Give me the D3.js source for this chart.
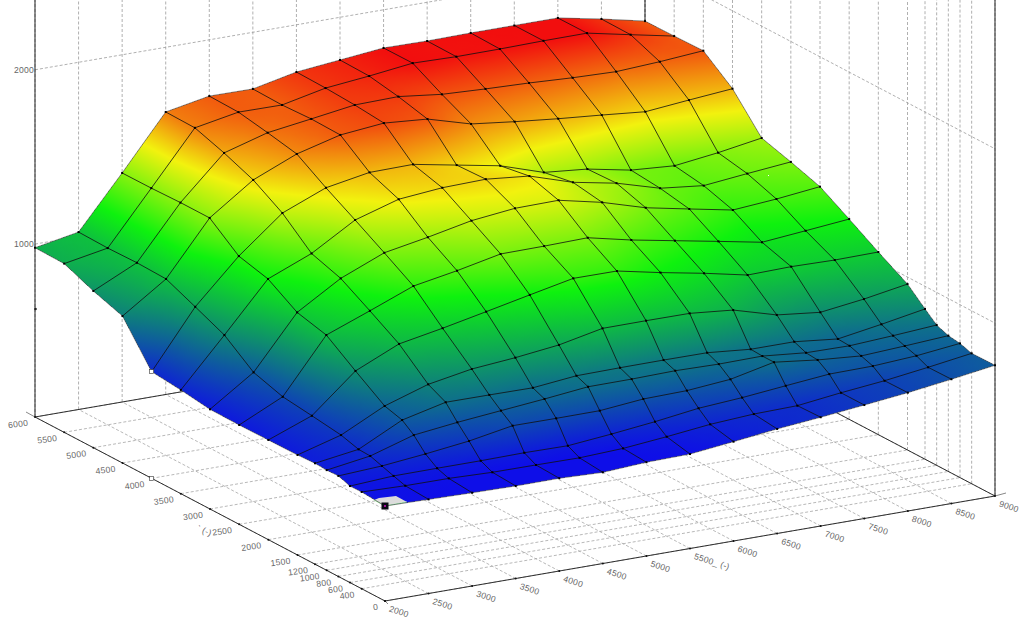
<!DOCTYPE html>
<html><head><meta charset="utf-8">
<style>html,body{margin:0;padding:0;background:#fff;overflow:hidden}svg{display:block}text{font-family:"Liberation Sans",sans-serif;font-size:8.6px;fill:#666;letter-spacing:.25px}</style>
<script src="https://cdn.jsdelivr.net/npm/d3@7/dist/d3.min.js"></script>
</head><body><svg id="c" width="1023" height="629"></svg>
<script>
const xValues=[2000,2500,3000,3500,4000,4500,5000,5500,6000,6500,7000,7500,8000,8500,9000];
const yValues=[6000,5500,5000,4500,4000,3500,3000,2500,2000,1500,1200,1000,800,600,400,0];
const zTicks=[1000,2000];
const z6000=[971,1018,1314,1621,1669,1667,1721,1747,1773,1770,1773,1773,1773,1724,1669];
const z5500=[968,1014,1315,1618,1665,1663,1717,1743,1774,1768,1769,1773,1774,1722,1671];
const z5000=[899,1018,1320,1562,1635,1671,1708,1713,1683,1671,1662,1649,1641,1655,1675];
const z4500=[843,1013,1320,1495,1601,1667,1692,1672,1601,1571,1545,1523,1499,1523,1545];
const z4000=[612,941,1189,1393,1495,1540,1543,1496,1449,1368,1344,1295,1277,1309,1350];
const z3500=[595,867,1146,1249,1398,1474,1497,1503,1478,1399,1351,1279,1251,1277,1301];
const z3000=[572,741,1042,1194,1298,1344,1396,1424,1427,1372,1298,1248,1199,1219,1247];
const z2500=[570,689,1000,1096,1195,1240,1293,1295,1300,1244,1197,1150,1102,1125,1149];
const z2000=[572,668,882,994,1041,1093,1146,1198,1197,1145,1098,1045,1050,1045,1048];
const z1500=[574,645,769,850,895,917,947,999,1000,999,975,904,876,909,952];
const z1200=[579,616,741,800,799,797,823,826,827,826,803,803,776,817,862];
const z1000=[575,613,690,720,744,768,795,796,801,796,799,775,772,787,805];
const z800=[577,591,617,648,693,692,693,717,722,744,799,769,749,763,779];
const z600=[554,569,570,570,573,570,594,622,656,674,699,723,726,742,770];
const z400=[555,548,547,539,538,536,547,571,599,615,620,651,677,711,748];
const z0=[545,540,535,531,532,523,538,542,570,600,624,651,679,713,750];
const zRows=[z6000,z5500,z5000,z4500,z4000,z3500,z3000,z2500,z2000,z1500,z1200,z1000,z800,z600,z400,z0];
const colorStops=[540,1150,1460,1773];
const colorValues=["rgb(14,14,232)","rgb(14,242,14)","rgb(242,242,14)","rgb(242,14,14)"];
const zTop=4000, zTickShift=8, cellSteps=3;

const svg=d3.select("#c");
const color=d3.scaleLinear().domain(colorStops).range(colorValues).clamp(true);
const xPx=d3.scaleLinear([2000,9000],[0,610]), xPy=d3.scaleLinear([2000,9000],[0,-105]);
const yPx=d3.scaleLinear([6000,0],[0,350]), yPy=d3.scaleLinear([6000,0],[0,184]);
const zPy=d3.scaleLinear([0,1000],[0,-174.3]);
const project=(x,y,z=0)=>[35+xPx(x)+yPx(y),417+xPy(x)+yPy(y)+zPy(z)];
const line=d3.line();
const xMin=xValues[0],xMax=xValues[xValues.length-1],yMin=0,yMax=6000;

/* dashed grid */
const floorGrid=[],wallGrid=[];
xValues.forEach(x=>{floorGrid.push([project(x,yMin),project(x,yMax)]);wallGrid.push([project(x,yMax),project(x,yMax,zTop)]);});
yValues.forEach(y=>{floorGrid.push([project(xMin,y),project(xMax,y)]);wallGrid.push([project(xMax,y),project(xMax,y,zTop)]);});
zTicks.forEach(t=>{const z=t-zTickShift;wallGrid.push([project(xMin,yMax,z),project(xMax,yMax,z)]);wallGrid.push([project(xMax,yMax,z),project(xMax,yMin,z)]);});
svg.append("g").selectAll("path").data(floorGrid).join("path").attr("d",line).attr("fill","none")
  .attr("stroke","#a6a6a6").attr("stroke-width",.8).attr("stroke-dasharray","3 2");
svg.append("g").selectAll("path").data(wallGrid).join("path").attr("d",line).attr("fill","none")
  .attr("stroke","#9c9c9c").attr("stroke-width",.8).attr("stroke-dasharray","3 2");

/* solid box */
const box=[[project(xMin,yMax),project(xMax,yMax)],[project(xMax,yMax),project(xMax,yMin)],
 [project(xMin,yMin),project(xMin,yMax)],[project(xMin,yMin),project(xMax,yMin)]];
svg.append("g").selectAll("path").data(box).join("path").attr("d",line).attr("fill","none").attr("stroke","#1c1c1c").attr("stroke-width",.9);
const uprights=[[project(xMin,yMax),project(xMin,yMax,zTop)],[project(xMax,yMax),project(xMax,yMax,zTop)],[project(xMax,yMin),project(xMax,yMin,zTop)]];
svg.append("g").selectAll("path").data(uprights).join("path").attr("d",line).attr("fill","none").attr("stroke","#2a2a2a").attr("stroke-width",1.05);
/* corner overshoots */
const over=[[project(xMin,yMax),project(xMin,yMax).map((v,k)=>v+[-9,-5][k])],
 [project(xMax,yMin),project(xMax,yMin).map((v,k)=>v+[11,-3][k])],
 [project(xMin,yMin),project(xMin,yMin).map((v,k)=>v+[3,3][k])]];
svg.append("g").selectAll("path").data(over).join("path").attr("d",line).attr("stroke","#555").attr("stroke-width",.7).attr("fill","none");

/* surface: each cell subdivided bilinearly into triangles with height-linear gradients */
const defs=svg.append("defs");
const tris=[];
for(let j=0;j<yValues.length-1;j++){
 for(let i=xValues.length-2;i>=0;i--){
  const at=(u,v)=>[
    xValues[i]+(xValues[i+1]-xValues[i])*u,
    yValues[j]+(yValues[j+1]-yValues[j])*v,
    zRows[j][i]*(1-u)*(1-v)+zRows[j][i+1]*u*(1-v)+zRows[j+1][i]*(1-u)*v+zRows[j+1][i+1]*u*v];
  for(let b=0;b<cellSteps;b++)for(let a=cellSteps-1;a>=0;a--){
    const u0=a/cellSteps,u1=(a+1)/cellSteps,v0=b/cellSteps,v1=(b+1)/cellSteps;
    const q=[at(u0,v0),at(u1,v0),at(u1,v1),at(u0,v1)];
    tris.push([q[0],q[1],q[3]],[q[1],q[2],q[3]]);
  }
 }
}
tris.forEach((t,id)=>{
 const p=t.map(d=>project(d[0],d[1],d[2])),zs=t.map(d=>d[2]);
 const ax=p[1][0]-p[0][0],ay=p[1][1]-p[0][1],bx=p[2][0]-p[0][0],by=p[2][1]-p[0][1];
 const dz1=zs[1]-zs[0],dz2=zs[2]-zs[0],det=ax*by-bx*ay;
 t.pts=p;t.fill=color(d3.mean(zs));
 if(Math.abs(det)<1e-6)return;
 const a=(dz1*by-dz2*ay)/det,b=(ax*dz2-bx*dz1)/det,n=a*a+b*b;
 if(n<1e-6)return;
 const lo=d3.min(zs),hi=d3.max(zs);
 if(hi-lo<1e-6)return;
 const g=defs.append("linearGradient").attr("id","t"+id).attr("gradientUnits","userSpaceOnUse")
  .attr("x1",p[0][0]+(lo-zs[0])*a/n).attr("y1",p[0][1]+(lo-zs[0])*b/n)
  .attr("x2",p[0][0]+(hi-zs[0])*a/n).attr("y2",p[0][1]+(hi-zs[0])*b/n);
 const stops=[lo,...colorStops.filter(s=>s>lo&&s<hi),hi];
 stops.forEach(s=>g.append("stop").attr("offset",(s-lo)/(hi-lo)).attr("stop-color",color(s)));
 t.fill=`url(#t${id})`;
});
svg.append("g").attr("shape-rendering","crispEdges").selectAll("path").data(tris).join("path")
 .attr("d",d=>line(d.pts)+"Z").attr("fill",d=>d.fill).attr("stroke","none");

/* selected cell decoration at the front corner */
const sel=project(xMin,yMin,z0[0]);
const off=(o)=>o.map(q=>[sel[0]+q[0],sel[1]+q[1]]);
svg.append("path").attr("d",line(off([[-11,-6],[-6,-8],[11,-10],[22,-4],[0,0]]))+"Z").attr("fill","#dcdcdc");
svg.append("path").attr("d",line(off([[-11,-6],[0,0],[22,-4]]))).attr("fill","none").attr("stroke","#9cf09c").attr("stroke-width",.9);

/* mesh lines */
const lineSets=[];
yValues.forEach((y,j)=>lineSets.push({pts:xValues.map((x,i)=>project(x,y,zRows[j][i])),edge:j===0||j===yValues.length-1}));
xValues.forEach((x,i)=>lineSets.push({pts:yValues.map((y,j)=>project(x,y,zRows[j][i])),edge:i===0||i===xValues.length-1}));
svg.append("g").selectAll("path").data(lineSets).join("path").attr("d",d=>line(d.pts)).attr("fill","none")
 .attr("stroke",d=>d.edge?"#555":"#101010").attr("stroke-width",d=>d.edge?.7:.8);
const nodes=[];
yValues.forEach((y,j)=>xValues.forEach((x,i)=>nodes.push(project(x,y,zRows[j][i]))));
svg.append("g").selectAll("rect").data(nodes).join("rect").attr("x",d=>d[0]-1).attr("y",d=>d[1]-1).attr("width",2).attr("height",2).attr("fill","#000");

/* markers */
svg.append("rect").attr("x",sel[0]-3.5).attr("y",sel[1]-3.5).attr("width",7).attr("height",7).attr("fill","#0a0a14");
svg.append("rect").attr("x",sel[0]-1).attr("y",sel[1]-1).attr("width",2).attr("height",2).attr("fill","#a0109a");
[project(xMin,4000,z4000[0]),project(xMin,4000)].forEach(p=>{
 svg.append("rect").attr("x",p[0]-2).attr("y",p[1]-2).attr("width",4).attr("height",4).attr("fill","#fff").attr("stroke","#333").attr("stroke-width",.6);});
const axisMark=project(xMin,yMax,620);
svg.append("circle").attr("cx",axisMark[0]+.5).attr("cy",axisMark[1]).attr("r",1.3).attr("fill","#222");

/* ticks */
const tickPts=[...xValues.map(x=>project(x,yMin)),...yValues.filter(y=>y!==4000).map(y=>project(xMin,y))];
svg.append("g").selectAll("circle").data(tickPts).join("circle").attr("cx",d=>d[0]).attr("cy",d=>d[1]).attr("r",1).attr("fill","#111");

/* labels */
svg.append("g").selectAll("text").data(yValues).join("text")
 .attr("transform",d=>{const p=project(xMin,d);return `translate(${p[0]-7},${p[1]+5.5}) rotate(-8)`;})
 .attr("text-anchor","end").attr("dy",".35em").text(d=>d);
svg.append("g").selectAll("text").data(xValues).join("text")
 .attr("transform",d=>{const p=project(d,yMin);return `translate(${p[0]+14},${p[1]+10.5}) rotate(18)`;})
 .attr("text-anchor","middle").attr("dy",".35em").text(d=>d);
svg.append("g").selectAll("text").data(zTicks).join("text")
 .attr("transform",d=>{const p=project(xMin,yMax,d-zTickShift);return `translate(${p[0]-1},${p[1]})`;})
 .attr("text-anchor","end").attr("dy",".35em").text(d=>d);
const xUnitAt=project(5700,yMin),yUnitAt=project(xMin,2720);
svg.append("text").attr("transform",`translate(${xUnitAt[0]+14},${xUnitAt[1]+19}) rotate(18)`).attr("text-anchor","middle").attr("dy",".35em").text("_ (-)");
svg.append("text").attr("transform",`translate(${yUnitAt[0]-22},${yUnitAt[1]+13}) rotate(20)`).attr("text-anchor","middle").attr("dy",".35em").text("` (-)");
</script></body></html>
